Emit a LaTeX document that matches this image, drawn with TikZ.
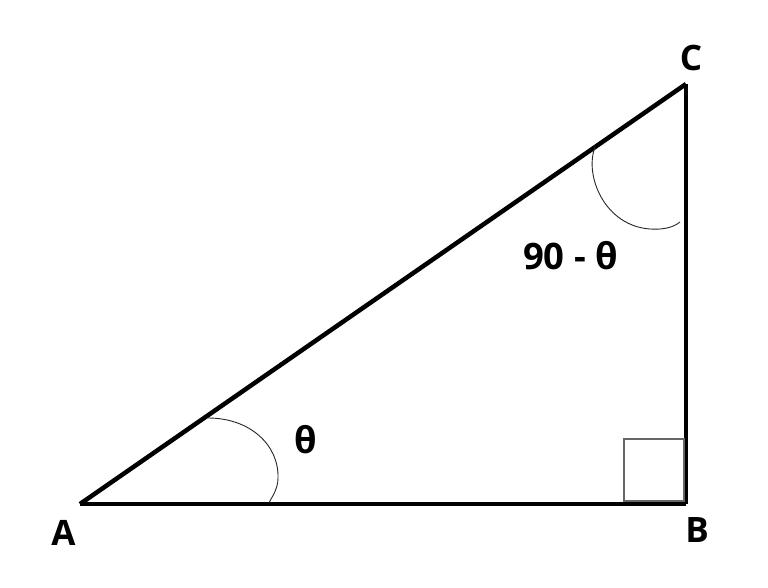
\documentclass[tikz,border=0pt]{standalone}
\usepackage{fontspec}
\setmainfont{Open Sans}
\begin{document}
\begin{tikzpicture}[x=1pt,y=-1pt,
  side/.style={line width=4.5pt,black},
  anglearc/.style={line width=0.9pt,black!85},
  rightbox/.style={line width=1.3pt,black!60},
  vlabel/.style={inner sep=0pt,font=\fontsize{35}{40}\selectfont\bfseries},
  alabel/.style={inner sep=0pt,font=\fontsize{36.5}{42}\selectfont\bfseries}]
\useasboundingbox (0,0) rectangle (768,588);
\coordinate (A) at (80,504);
\coordinate (B) at (686,504);
\coordinate (C) at (686,84);
\draw[side] (A) -- (B);
\draw[side] (B) -- (C);
\draw[side] (C) -- (A);
% right angle mark
\coordinate (Q1) at (624,439);
\coordinate (Q2) at (684,501);
\draw[rightbox] (Q1) rectangle (Q2);
% angle arc at A
\coordinate (a1) at (208,418);
\coordinate (a2) at (278,478);
\coordinate (a3) at (269,503);
\draw[anglearc] (a1) .. controls (250,418) and (279,445) .. (a2)
  .. controls (278,490) and (271,498) .. (a3);
% angle arc at C
\coordinate (c1) at (595,147);
\coordinate (c2) at (650,229);
\coordinate (c3) at (680,222);
\draw[anglearc] (c1) .. controls (584,176) and (605,226) .. (c2)
  .. controls (664,230) and (674,227) .. (c3);
% labels
\node[vlabel] (lA) at (63.5,533) {A};
\node[vlabel] (lB) at (697,530) {B};
\node[vlabel] (lC) at (691,58.5) {C};
\node[alabel] (th) at (306,440) {θ};
\node[alabel] (th2) at (570.5,256) {90 - θ};
\end{tikzpicture}
\end{document}
